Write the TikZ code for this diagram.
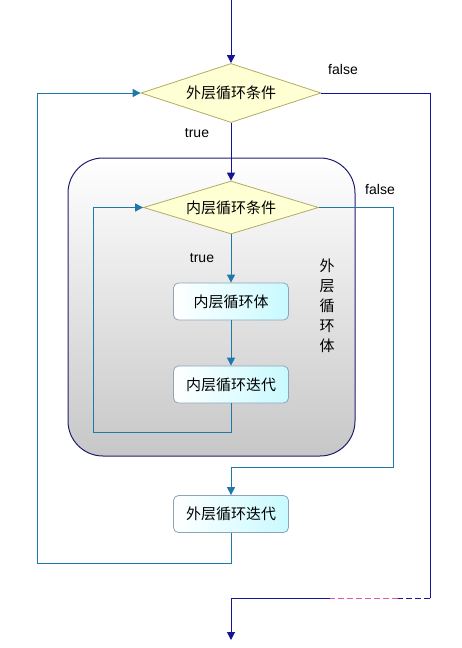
\documentclass[tikz,border=0pt]{standalone}
\usepackage{fontspec}
\setmainfont{Liberation Sans}
\newfontfamily\cjk{Noto Sans CJK SC}
\usetikzlibrary{shapes.geometric,arrows.meta}
\definecolor{navyline}{RGB}{20,20,150}
\definecolor{tealline}{RGB}{30,120,170}
\definecolor{dfill}{RGB}{255,255,212}
\definecolor{ddraw}{RGB}{180,170,100}
\definecolor{bdraw}{RGB}{140,165,190}
\definecolor{bfill}{RGB}{200,250,255}
\definecolor{cdraw}{RGB}{30,30,110}
\definecolor{pinkdash}{RGB}{220,90,170}
\begin{document}
\begin{tikzpicture}[x=1pt,y=-1pt,
  decision/.style={diamond,draw=ddraw,fill=dfill,line width=0.8pt,inner sep=0pt,aspect=3,font=\cjk\fontsize{15}{17}\selectfont},
  procbox/.style={rectangle,rounded corners=5pt,draw=bdraw,line width=0.8pt,left color=white,right color=bfill,minimum width=115pt,minimum height=37pt,inner sep=0pt,font=\cjk\fontsize{15}{17}\selectfont},
  lbl/.style={font=\fontsize{14}{16}\selectfont},
  navyconn/.style={draw=navyline,line width=1pt},
  tealconn/.style={draw=tealline,line width=1pt},
  tip/.style={-{Triangle[length=8pt,width=8pt]}}]
\useasboundingbox (0,0) rectangle (462,648);
% container
\node[rectangle,rounded corners=35pt,draw=cdraw,line width=1pt,top color=white,bottom color=black!22,minimum width=287pt,minimum height=298pt,inner sep=0pt] (body) at (211.5,307) {};
\node[font=\cjk\fontsize{15}{20}\selectfont,align=center,inner sep=0pt] (bodylbl) at (327,306) {外\\层\\循\\环\\体};
% nodes
\node[decision,minimum width=180pt,minimum height=59pt] (od) at (231,93) {外层循环条件};
\node[decision,minimum width=175pt,minimum height=53pt] (id) at (231,207.5) {内层循环条件};
\node[procbox] (ib1) at (231,301.5) {内层循环体};
\node[procbox] (ib2) at (231,384.5) {内层循环迭代};
\node[procbox] (ob) at (231,514) {外层循环迭代};
% labels
\node[lbl] (f1) at (343,69) {false};
\node[lbl] (t1) at (197,133) {true};
\node[lbl] (f2) at (380,189) {false};
\node[lbl] (t2) at (202,258) {true};
% coordinates
\coordinate (start) at (231,0);
\coordinate (of1) at (430,93);
\coordinate (of2) at (430,598);
\coordinate (d1) at (398,598);
\coordinate (d2) at (330,598);
\coordinate (of3) at (231,598);
\coordinate (endpt) at (231,640);
\coordinate (il1) at (231,432);
\coordinate (il2) at (93,432);
\coordinate (il3) at (93,207.5);
\coordinate (if1) at (393,207.5);
\coordinate (if2) at (393,467);
\coordinate (if3) at (231,467);
\coordinate (ol1) at (231,563);
\coordinate (ol2) at (37,563);
\coordinate (ol3) at (37,93);
% connectors
\draw[navyconn,tip] (start) -- (od.north);
\draw[navyconn,tip] (od.south) -- (id.north);
\draw[navyconn] (od.east) -- (of1) -- (of2);
\draw[navyconn,dash pattern=on 6pt off 3pt] (of2) -- (d1);
\draw[pinkdash,line width=1pt,dash pattern=on 6pt off 3pt] (d1) -- (d2);
\draw[navyconn,tip] (d2) -- (of3) -- (endpt);
\draw[tealconn,tip] (id.south) -- (ib1.north);
\draw[tealconn,tip] (ib1.south) -- (ib2.north);
\draw[tealconn,tip] (ib2.south) -- (il1) -- (il2) -- (il3) -- (id.west);
\draw[tealconn,tip] (id.east) -- (if1) -- (if2) -- (if3) -- (ob.north);
\draw[tealconn,tip] (ob.south) -- (ol1) -- (ol2) -- (ol3) -- (od.west);
\end{tikzpicture}
\end{document}
